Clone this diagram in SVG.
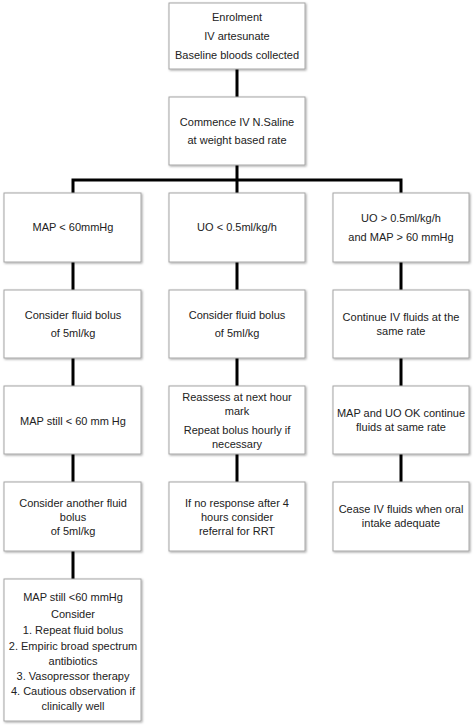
<svg xmlns="http://www.w3.org/2000/svg" width="474" height="726" viewBox="0 0 474 726">
<defs>
<filter id="sh" x="-5%" y="-5%" width="115%" height="115%">
<feDropShadow dx="1" dy="1" stdDeviation="0.8" flood-color="#000" flood-opacity="0.35"/>
</filter>
<style>
.box{fill:#fff;stroke:#a6a6a6;stroke-width:1;filter:url(#sh)}
.c{fill:none;stroke:#000;stroke-width:3}
text{font-family:"Liberation Sans",Arial,sans-serif;font-size:11px;fill:#222;text-anchor:middle}
</style>
</defs>
<rect width="474" height="726" fill="#fff"/>
<g id="connectors">
<path class="c" d="M237 69V97M237 165V180M73 193V180H401V193M237 180V193"/>
<path class="c" d="M73 262V290M73 358V386M73 454V482M73 551V579"/>
<path class="c" d="M237 262V290M237 358V386M237 454V482"/>
<path class="c" d="M401 262V290M401 358V386M401 454V482"/>
</g>
<g id="n1"><rect class="box" x="169" y="3" width="136" height="66"/>
<text x="237" y="21">Enrolment</text><text x="237" y="40">IV artesunate</text><text x="237" y="59">Baseline bloods collected</text></g>
<g id="n2"><rect class="box" x="169" y="97" width="136" height="68"/>
<text x="237" y="126">Commence  IV N.Saline</text><text x="237" y="144">at weight based rate</text></g>
<g id="l1"><rect class="box" x="4" y="193" width="137" height="69"/>
<text x="73" y="231">MAP  &lt; 60mmHg</text></g>
<g id="m1"><rect class="box" x="169" y="193" width="136" height="69"/>
<text x="237" y="231">UO &lt; 0.5ml/kg/h</text></g>
<g id="r1"><rect class="box" x="333" y="193" width="136" height="69"/>
<text x="401" y="222">UO &gt; 0.5ml/kg/h</text><text x="401" y="241">and MAP  &gt; 60 mmHg</text></g>
<g id="l2"><rect class="box" x="4" y="290" width="137" height="68"/>
<text x="73" y="319">Consider fluid bolus</text><text x="73" y="337">of 5ml/kg</text></g>
<g id="m2"><rect class="box" x="169" y="290" width="136" height="68"/>
<text x="237" y="319">Consider fluid bolus</text><text x="237" y="337">of 5ml/kg</text></g>
<g id="r2"><rect class="box" x="333" y="290" width="136" height="68"/>
<text x="401" y="321">Continue IV fluids at the</text><text x="401" y="335">same rate</text></g>
<g id="l3"><rect class="box" x="4" y="386" width="137" height="68"/>
<text x="73" y="425">MAP still &lt; 60 mm Hg</text></g>
<g id="m3"><rect class="box" x="169" y="386" width="136" height="68"/>
<text x="237" y="401">Reassess at next hour</text><text x="237" y="415">mark</text><text x="237" y="434">Repeat bolus hourly  if</text><text x="237" y="448">necessary</text></g>
<g id="r3"><rect class="box" x="333" y="386" width="136" height="68"/>
<text x="401" y="417">MAP  and UO  OK continue</text><text x="401" y="431">fluids at same rate</text></g>
<g id="l4"><rect class="box" x="4" y="482" width="137" height="69"/>
<text x="73" y="507">Consider another fluid</text><text x="73" y="521">bolus</text><text x="73" y="535">of 5ml/kg</text></g>
<g id="m4"><rect class="box" x="169" y="482" width="136" height="69"/>
<text x="237" y="507">If no response after 4</text><text x="237" y="521">hours consider</text><text x="237" y="535">referral for  RRT</text></g>
<g id="r4"><rect class="box" x="333" y="482" width="136" height="69"/>
<text x="401" y="513">Cease IV fluids when oral</text><text x="401" y="527">intake adequate</text></g>
<g id="l5"><rect class="box" x="4" y="579" width="137" height="142"/>
<text x="73" y="601">MAP  still &lt;60 mmHg</text>
<text x="73" y="618">Consider</text>
<text x="73" y="634">1. Repeat  fluid bolus</text>
<text x="73" y="650">2. Empiric broad spectrum</text>
<text x="73" y="665">antibiotics</text>
<text x="73" y="680">3. Vasopressor therapy</text>
<text x="73" y="695">4. Cautious observation if</text>
<text x="73" y="710">clinically well</text></g>
</svg>
